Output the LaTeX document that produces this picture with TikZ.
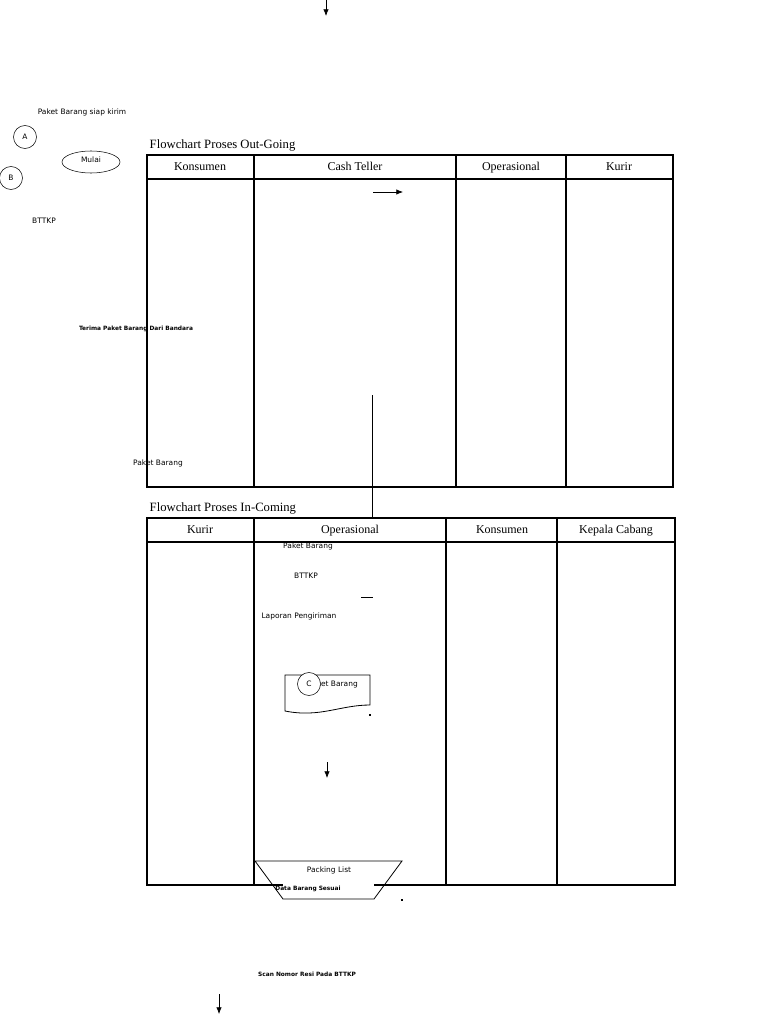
\documentclass[tikz,border=0pt]{standalone}
\usepackage{fontspec}
\setmainfont{Liberation Serif}
\newfontfamily\lab{DejaVu Sans}
\usetikzlibrary{shapes.geometric,arrows.meta}
\begin{document}
\begin{tikzpicture}[x=0.75pt,y=-0.75pt,
 tbl/.style={line width=1.2pt},
 hdr/.style={font=\fontsize{9}{10}\selectfont,text height=7pt,text depth=2pt},
 ttl/.style={font=\fontsize{9.5}{10}\selectfont,anchor=west},
 lbl/.style={font=\lab\fontsize{5.6}{6}\selectfont,inner sep=0pt},
 tiny/.style={font=\lab\bfseries\fontsize{4.4}{5}\selectfont,inner sep=0pt},
 arr/.style={-{Latex[length=5pt,width=4pt]},line width=0.5pt},
 ln/.style={line width=0.6pt}]
\useasboundingbox (0,0) rectangle (768,1024);
% top arrow
\coordinate (ta1) at (326,0); \coordinate (ta2) at (326,16);
\draw[arr] (ta1) -- (ta2);
% left floating items
\node[lbl] (siap) at (82,112) {Paket Barang siap kirim};
\node[draw,circle,minimum size=23pt*0.75,inner sep=0pt,lbl] (A) at (25,137) {A};
\node[draw,circle,minimum size=23pt*0.75,inner sep=0pt,lbl] (B) at (11,178) {B};
\node[draw,ellipse,minimum width=58*0.75pt,minimum height=22*0.75pt,inner sep=0pt,lbl,text depth=4pt] (mulai) at (91,162) {Mulai};
\node[lbl] (bttkp1) at (44,221) {BTTKP};
\node[tiny] (terima) at (136,329) {Terima Paket Barang Dari Bandara};
\node[lbl] (pb1) at (158,463) {Paket Barang};
% Out-going table
\node[ttl] (t1) at (145,145) {Flowchart Proses Out-Going};
\draw[tbl] (147,155) rectangle (673,487);
\draw[tbl] (147,179) -- (673,179);
\foreach \x in {254,456,566} \draw[tbl] (\x,155) -- (\x,487);
\node[hdr] (h1) at (200,167) {Konsumen};
\node[hdr] (h2) at (355,167) {Cash Teller};
\node[hdr] (h3) at (511,167) {Operasional};
\node[hdr] (h4) at (619,167) {Kurir};
\coordinate (ra1) at (373,192); \coordinate (ra2) at (403,192);
\draw[arr] (ra1) -- (ra2);
\coordinate (vl1) at (372,395); \coordinate (vl2) at (372,518);
\draw[ln] (vl1) -- (vl2);
% In-coming table
\node[ttl] (t2) at (145,508) {Flowchart Proses In-Coming};
\draw[tbl] (147,518) rectangle (675,885);
\draw[tbl] (147,542) -- (675,542);
\foreach \x in {254,446,557} \draw[tbl] (\x,518) -- (\x,885);
\node[hdr] (k1) at (200,530) {Kurir};
\node[hdr] (k2) at (350,530) {Operasional};
\node[hdr] (k3) at (502,530) {Konsumen};
\node[hdr] (k4) at (616,530) {Kepala Cabang};
\node[lbl] (pb2) at (308,546) {Paket Barang};
\node[lbl] (bttkp2) at (306,576) {BTTKP};
\coordinate (d1) at (361,597); \coordinate (d2) at (373,597);
\draw[ln] (d1) -- (d2);
\node[lbl] (lap) at (299,616) {Laporan Pengiriman};
% document shape
\draw[ln] (285,675) -- (370,675) -- (370,705) .. controls (340,705) and (320,718) .. (285,711) -- cycle;
\node[lbl] (pb3) at (333,684) {Paket Barang};
\node[draw,fill=white,circle,minimum size=23pt*0.75,inner sep=0pt,lbl] (C) at (309,684) {C};
\node[inner sep=0.3pt,fill=black] (dot1) at (370,715) {};
\coordinate (da1) at (327,762); \coordinate (da2) at (327,778);
\draw[arr] (da1) -- (da2);
% trapezoid
\draw[ln,fill=white] (255,861) -- (402,861) -- (374,899) -- (283,899) -- cycle;
\draw[tbl] (254,861) -- (254,885);
\draw[tbl] (254,885) -- (283,885); \draw[tbl] (374,885) -- (446,885);
\node[lbl] (pack) at (329,870) {Packing List};
\node[tiny] (data) at (308,889) {Data  Barang Sesuai};
\node[inner sep=0.3pt,fill=black] (dot2) at (402,900) {};
\node[tiny] (scan) at (307,974) {Scan Nomor Resi Pada BTTKP};
\coordinate (ba1) at (219,994); \coordinate (ba2) at (219,1014);
\draw[arr] (ba1) -- (ba2);
\end{tikzpicture}
\end{document}
